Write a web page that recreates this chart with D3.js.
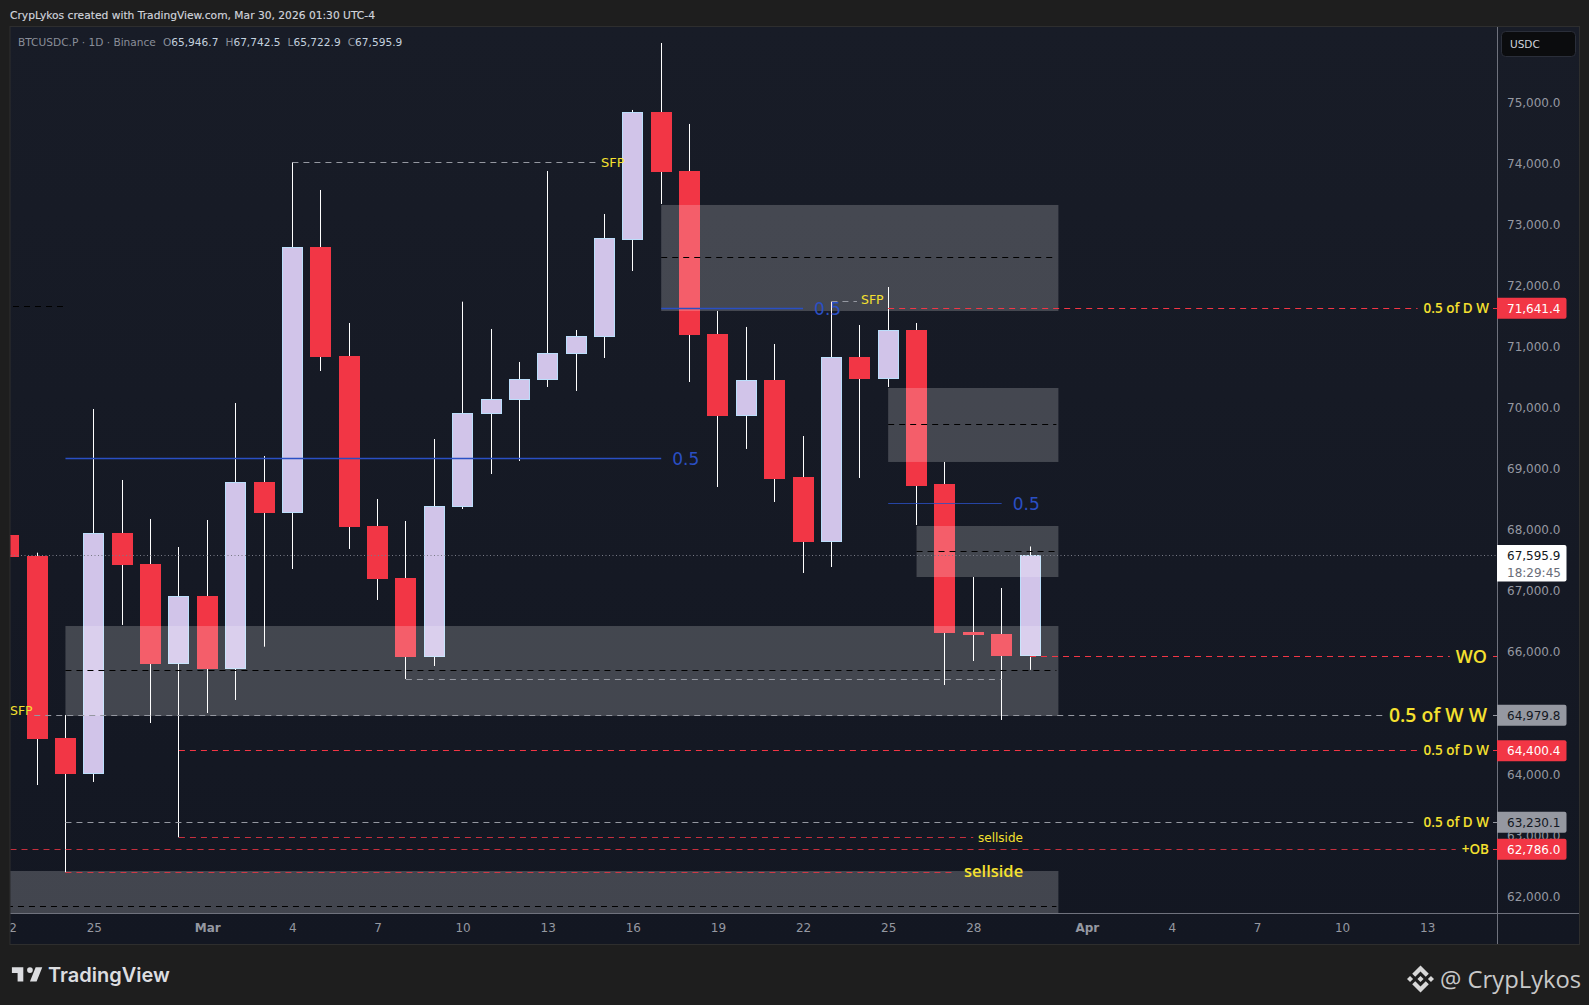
<!DOCTYPE html>
<html>
<head>
<meta charset="utf-8">
<title>BTCUSDC.P 1D</title>
<script src="https://cdn.jsdelivr.net/npm/d3@7"></script>
<style>
  html, body { margin: 0; padding: 0; background: #1e1e1e; overflow: hidden; }
  svg { display: block; }
  text { font-family: "DejaVu Sans", sans-serif; }
  .axis .domain { display: none; }
  .axis text { font-family: "DejaVu Sans", sans-serif; font-size: 12px; fill: #9598a1; }
  .lvl { font-family: "Open Sans", sans-serif; }
</style>
</head>
<body>
<svg id="chart" width="1589" height="1005"></svg>
<script>
// day number counted from 1 Mar 2026, prices
const days   = [-7,-6,-5,-4,-3,-2,-1,0,1,2,3,4,5,6,7,8,9,10,11,12,13,14,15,16,17,18,19,20,21,22,23,24,25,26,27,28,29];
const opens  = [67931,67587,64608,64019,67964,67456,65819,66932,65737,68798,68291,72645,70861,68078,67227,65934,68389,69911,70141,70468,70894,71172,72760,74855,73889,71221,69879,70468,68880,67816,70844,70484,71286,68766,66343,66310,65946.7];
const highs  = [68100,67641,64984,69993,68831,68193,67734,68176,70091,69224,74032,73578,71401,68520,68160,69502,71750,71303,70763,73889,71286,73185,74888,75984,74659,71597,71336,71057,69551,71750,71368,71990,71401,69126,67243,67063,67742.5];
const lows   = [67400,63838,62410,63888,66458,64853,62982,65017,65230,66102,67374,70615,67702,66867,65574,65786,68356,68929,69142,70353,70288,70828,72252,73349,70435,68716,69339,68471,67309,67407,68864,70353,68094,65475,65868,64903,65722.9];
const closes = [67571,64591,64019,67964,67440,65819,66932,65737,68798,68291,72645,70844,68062,67211,65934,68406,69928,70157,70484,70910,71188,72792,74855,73873,71205,69879,70468,68848,67816,70844,70484,71286,68733,66327,66294,65946,67595.9];

const priceTicks = [62000,63000,64000,66000,67000,68000,69000,70000,71000,72000,73000,74000,75000];
const timeDays   = [-7,-4,0,3,6,9,12,15,18,21,24,27,31,34,37,40,43];
const timeLabels = ["22","25","Mar","4","7","10","13","16","19","22","25","28","Apr","4","7","10","13"];

// grey boxes: top price, bottom price, first day (all run out to day 30)
const zoneTops    = [73333,70337,68078,66441,62431];
const zoneBottoms = [71597,69126,67243,64968,61275];
const zoneStarts  = [16,24,25,-5,-9];
const zoneMids    = [72476,69743,67664,65716,61853];

// blue 0.5 lines
const bluePrices = [69186,71641,68450];
const blueFrom   = [-5,16,24];
const blueTo     = [16,21,28];

// levels that run to the price axis, with the text sitting against it
const levelPrices = [71641.4,65946.7,64979.8,64400.4,63230.1,62786.0];
const levelFrom   = [24,29,-6.1,-1,-5,-8];
const levelTexts  = ["0.5 of D W","WO","0.5 of W W","0.5 of D W","0.5 of D W","+OB"];
const levelKinds  = ["red","red","grey","red","grey","red"];
const levelSizes  = [13.5,18,19.4,13.5,13.5,13.5];

const lastPrice = 67595.9;
const countdown = "18:29:45";

const W = 1589, H = 1005;
const plotL = 10.5, plotR = 1497, plotT = 27, plotB = 913, axisR = 1579, axisB = 944;
const RED = "#f23645", LILAC = "#d1c4e9", EDGE = "#bbdefb", YELLOW = "#f5e02f", BLUE = "#2a4fc4", GREY = "#9598a1";

const x = d3.scaleLinear().domain([0, 30]).range([207.3, 1058.4]);
const y = d3.scaleLinear().domain([62786, 71641.4]).range([849.3, 308.3]);
const crisp = p => Math.floor(y(p)) + .5;

const svg = d3.select("#chart");
const defs = svg.append("defs");

let grad = defs.append("linearGradient").attr("id", "bg").attr("x1", 0).attr("x2", 0).attr("y1", 0).attr("y2", 1);
grad.append("stop").attr("offset", 0).attr("stop-color", "#181c27");
grad.append("stop").attr("offset", 1).attr("stop-color", "#131722");

defs.append("clipPath").attr("id", "plotClip").append("rect")
  .attr("x", plotL).attr("y", plotT).attr("width", plotR - plotL).attr("height", plotB - plotT);
defs.append("clipPath").attr("id", "timeClip").append("rect")
  .attr("x", plotL).attr("y", plotB).attr("width", plotR - plotL).attr("height", axisB - plotB);

// frame
svg.append("rect").attr("x", plotL - .5).attr("y", plotT - .5).attr("width", axisR - plotL + 1).attr("height", axisB - plotT + 1)
  .attr("fill", "url(#bg)").attr("stroke", "#2e2e2e");

// header
svg.append("text").attr("x", 10).attr("y", 19).attr("font-size", 10.7).attr("fill", "#d1d4dc")
  .attr("stroke", "#d1d4dc").attr("stroke-width", .15)
  .text("CrypLykos created with TradingView.com, Mar 30, 2026 01:30 UTC-4");

const legend = svg.append("text").attr("x", 18).attr("y", 46).attr("font-size", 10.6).attr("fill", "#8a8e99");
legend.append("tspan").text("BTCUSDC.P · 1D · Binance");
[["O", opens], ["H", highs], ["L", lows], ["C", closes]].forEach(function(p, i) {
  legend.append("tspan").attr("dx", 7).text(p[0]);
  legend.append("tspan").attr("fill", "#c3d0de").text(d3.format(",.1f")(p[1][p[1].length - 1]));
});

// candles, the boxes go over them
const plot = svg.append("g").attr("clip-path", "url(#plotClip)");
const idx = d3.range(days.length);

plot.append("g").selectAll("line").data(idx).enter().append("line")
  .attr("x1", i => Math.floor(x(days[i])) + .5).attr("x2", i => Math.floor(x(days[i])) + .5)
  .attr("y1", i => y(highs[i])).attr("y2", i => y(lows[i]))
  .attr("stroke", "#ffffff").attr("stroke-width", 1);

plot.append("g").selectAll("rect").data(idx).enter().append("rect")
  .attr("x", i => Math.floor(x(days[i])) - 9.5)
  .attr("width", 20)
  .attr("y", i => Math.round(y(Math.max(opens[i], closes[i]))) + .5)
  .attr("height", i => Math.max(2, Math.round(Math.abs(y(opens[i]) - y(closes[i]))) - 1))
  .attr("fill", i => closes[i] >= opens[i] ? LILAC : RED)
  .attr("stroke", i => closes[i] >= opens[i] ? EDGE : RED);

plot.append("g").selectAll("rect").data(zoneTops).enter().append("rect")
  .attr("x", (d, i) => x(zoneStarts[i])).attr("width", (d, i) => x(30) - x(zoneStarts[i]))
  .attr("y", d => y(d)).attr("height", (d, i) => y(zoneBottoms[i]) - y(d))
  .attr("fill", "#ffffff").attr("fill-opacity", .2);

plot.append("g").selectAll("line").data(zoneMids).enter().append("line")
  .attr("x1", (d, i) => x(zoneStarts[i])).attr("x2", x(30) - 2)
  .attr("y1", d => crisp(d)).attr("y2", d => crisp(d))
  .attr("stroke", "#000000").attr("stroke-dasharray", "6 5");

// short black dash left over at the top left
plot.append("line").attr("x1", 13).attr("x2", x(-5.05)).attr("y1", crisp(71668)).attr("y2", crisp(71668))
  .attr("stroke", "#000000").attr("stroke-dasharray", "6 5");

// last price
plot.append("line").attr("x1", plotL).attr("x2", plotR).attr("y1", crisp(lastPrice)).attr("y2", crisp(lastPrice))
  .attr("stroke", "#787b86").attr("stroke-dasharray", "1 2.5");

// blue 0.5 lines
bluePrices.forEach(function(p, i) {
  plot.append("line").attr("x1", x(blueFrom[i])).attr("x2", x(blueTo[i]))
    .attr("y1", crisp(p)).attr("y2", crisp(p))
    .attr("stroke", BLUE).attr("stroke-width", i == 2 ? 1 : 1.3).attr("opacity", i == 2 ? .8 : 1);
  plot.append("text").attr("x", x(blueTo[i]) + 11).attr("y", y(p) + 6.5)
    .attr("font-size", 17).attr("fill", BLUE).text("0.5");
});

// dashed levels with the text at the price axis
levelPrices.forEach(function(p, i) {
  const yy = crisp(p);
  const big = levelSizes[i] > 14;
  const t = plot.append("text").attr("class", "lvl").attr("x", big ? 1487 : 1489).attr("y", y(p) + (big ? 6.5 : 4.5))
    .attr("text-anchor", "end").attr("font-size", levelSizes[i]).attr("font-weight", 600)
    .attr("fill", YELLOW).text(levelTexts[i]);
  const w = t.node().getComputedTextLength();
  const col = levelKinds[i] == "red" ? RED : GREY;
  const thin = i == 5 ? .8 : 1;
  const from = levelFrom[i] < -7 ? plotL : x(levelFrom[i]);
  plot.append("line").attr("x1", from).attr("x2", (big ? 1487 : 1489) - w - 6).attr("y1", yy).attr("y2", yy)
    .attr("stroke", col).attr("stroke-dasharray", "6 5").attr("opacity", thin);
  plot.append("line").attr("x1", 1493).attr("x2", plotR).attr("y1", yy).attr("y2", yy).attr("stroke", col);
});

// loose dashed lines with a small label at the end: price, from day, to day, colour
const looseLines = [[74032,3,13.7,GREY],[71750,22,22.9,GREY],[65569,7,28,GREY],[62982,-1,27,RED],[62410,-5,26.3,RED]];
looseLines.forEach(function(l) {
  plot.append("line").attr("x1", x(l[1])).attr("x2", x(l[2]))
    .attr("y1", crisp(l[0])).attr("y2", crisp(l[0]))
    .attr("stroke", l[3]).attr("stroke-dasharray", "6 5").attr("opacity", l[3] == RED ? .8 : 1);
});

const noteTexts  = ["SFP","SFP","SFP","sellside","sellside"];
const notePrices = [74032,71785,65060,62982,62410];
const noteX      = [601,861,10,978,964];
const noteSizes  = [13,12.5,12.5,12,16.5];
noteTexts.forEach(function(s, i) {
  plot.append("text").attr("class", i == 4 ? "lvl" : null).attr("x", noteX[i]).attr("y", y(notePrices[i]) + 4.5)
    .attr("font-size", noteSizes[i]).attr("font-weight", i == 4 ? 600 : 400).attr("fill", YELLOW).text(s);
});

// axis lines
svg.append("line").attr("x1", plotL).attr("x2", axisR).attr("y1", plotB + .5).attr("y2", plotB + .5).attr("stroke", "#6f727d");
svg.append("line").attr("x1", plotR + .5).attr("x2", plotR + .5).attr("y1", plotT).attr("y2", axisB).attr("stroke", "#6f727d");

const yAxis = svg.append("g").attr("class", "axis").attr("transform", "translate(" + plotR + ",0)")
  .call(d3.axisRight(y).tickValues(priceTicks).tickFormat(d3.format(",.1f")).tickSize(0).tickPadding(10));
yAxis.selectAll("text").attr("dy", "0.24em");

const xAxis = svg.append("g").attr("clip-path", "url(#timeClip)").append("g").attr("class", "axis")
  .attr("transform", "translate(0," + plotB + ")")
  .call(d3.axisBottom(x).tickValues(timeDays).tickFormat((d, i) => timeLabels[i]).tickSize(0).tickPadding(10));
xAxis.selectAll("text").attr("font-weight", (d, i) => (timeLabels[i] == "Mar" || timeLabels[i] == "Apr") ? 700 : 400);

// price tags on the axis
function priceTag(p, fill, col) {
  svg.append("path")
    .attr("d", "M" + plotR + "," + (y(p) - 10.5) + "h67.5a2,2 0 0 1 2,2v17a2,2 0 0 1 -2,2h-67.5z")
    .attr("fill", fill);
  svg.append("text").attr("x", plotR + 10).attr("y", y(p) + 4.5).attr("font-size", 12).attr("fill", col)
    .text(d3.format(",.1f")(p));
}
levelPrices.forEach(function(p, i) {
  if (levelTexts[i] == "WO") return;
  if (levelKinds[i] == "red") priceTag(p, RED, "#ffffff");
  else priceTag(p, GREY, "#131722");
});

// last price tag with countdown
svg.append("path")
  .attr("d", "M" + plotR + "," + (y(lastPrice) - 10.5) + "h67.5a2,2 0 0 1 2,2v32.5a2,2 0 0 1 -2,2h-67.5z")
  .attr("fill", "#ffffff");
svg.append("text").attr("x", plotR + 10).attr("y", y(lastPrice) + 4.5).attr("font-size", 12).attr("fill", "#131722")
  .text(d3.format(",.1f")(lastPrice));
svg.append("text").attr("x", plotR + 10).attr("y", y(lastPrice) + 22).attr("font-size", 12).attr("fill", "#6a6d78").text(countdown);

// currency button
svg.append("rect").attr("x", 1501.5).attr("y", 31.5).attr("width", 74).attr("height", 25).attr("rx", 4)
  .attr("fill", "#0b0c0e").attr("stroke", "#2a2e39");
svg.append("text").attr("x", 1510).attr("y", 48).attr("font-size", 10.5).attr("fill", "#d1d4dc").text("USDC");

// footer
svg.append("path").attr("transform", "translate(10,961.5) scale(.95)")
  .attr("d", "M14 6H2v6h6v9h6V6zm14 15h-7l6-15h7l-6 15zm-7-9a3 3 0 1 0 0-6 3 3 0 0 0 0 6z")
  .attr("fill", "#dcdde0");
svg.append("text").attr("x", 48).attr("y", 982).style("font-family", "Inter, sans-serif")
  .attr("font-size", 20).attr("font-weight", 600).attr("fill", "#dcdde0").text("TradingView");

svg.append("path").attr("transform", "translate(1407,965.5) scale(.2133)")
  .attr("d", "M38.73 53.2l24.59-24.58 24.6 24.6 14.3-14.31L63.32 0 24.43 38.9zM0 63.31l14.3-14.31 14.31 14.31-14.31 14.3zM38.73 73.41l24.59 24.59 24.6-24.6 14.31 14.29-38.9 38.91-38.91-38.88v-.03zM98 63.31l14.3-14.31 14.31 14.3-14.31 14.32zM77.83 63.3L63.32 48.78 52.59 59.51l-1.24 1.23-2.54 2.54 14.51 14.5 14.51-14.47z")
  .attr("fill", "#d8d8d8");
svg.append("text").attr("x", 1440).attr("y", 988).style("font-family", "'Open Sans', sans-serif")
  .attr("font-size", 23.8).attr("fill", "#c8c8c8").text("@ CrypLykos");
</script>
</body>
</html>
